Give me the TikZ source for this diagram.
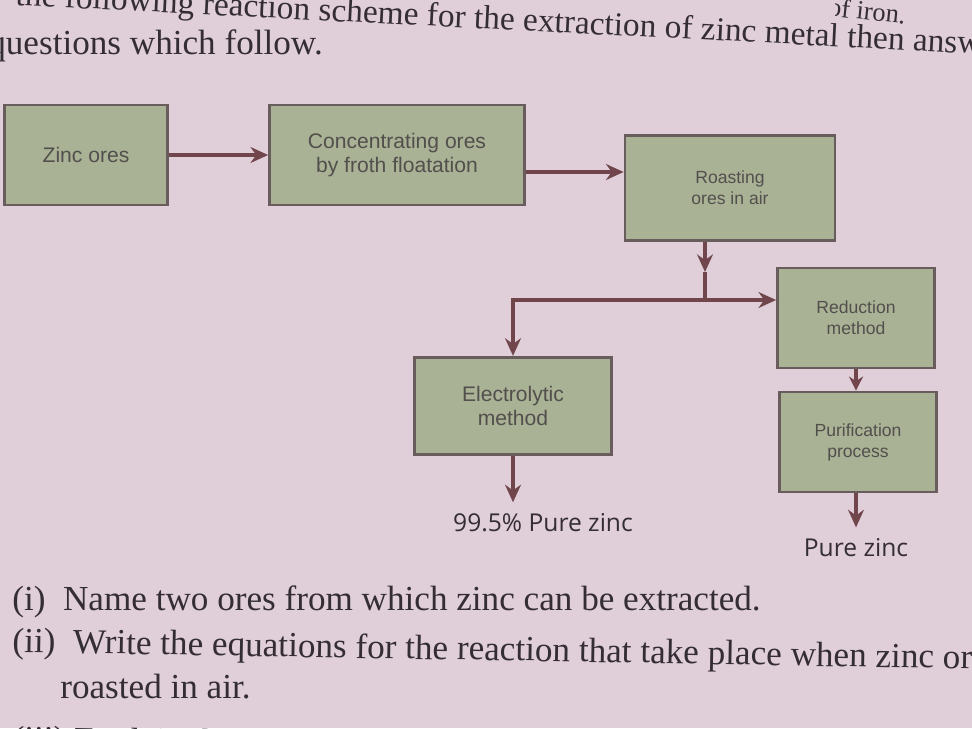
\documentclass[tikz,border=0pt]{standalone}
\usepackage{fontspec}
\setmainfont{Liberation Serif}
\setsansfont{Liberation Sans}
\newfontfamily\labelfont{Open Sans}
\usetikzlibrary{arrows.meta,positioning}

\definecolor{pagebg}{RGB}{224,206,216}
\definecolor{boxfill}{RGB}{170,178,150}
\definecolor{boxline}{RGB}{105,92,92}
\definecolor{flowcol}{RGB}{112,70,76}
\definecolor{inktext}{RGB}{52,46,52}

\tikzset{
  stage/.style={draw=boxline,fill=boxfill,line width=1.6pt,align=center,inner sep=2pt,
    font=\sffamily\fontsize{12}{14}\selectfont,text=inktext!75!boxfill},
  smallstage/.style={stage,font=\sffamily\fontsize{10}{12}\selectfont},
  flow/.style={draw=flowcol,line width=2.2pt,-{Stealth[length=10pt,width=9pt]}},
  link/.style={draw=flowcol,line width=2.2pt},
  result/.style={font=\labelfont\fontsize{14}{16}\selectfont,text=inktext},
  pageline/.style={anchor=base west,inner sep=0pt,font=\fontsize{20}{24}\selectfont,text=inktext}
}

\begin{document}
\begin{tikzpicture}[x=0.02cm,y=-0.02cm]
\fill[pagebg] (0,0) rectangle (972,728);
\clip (0,0) rectangle (972,728);

% text of the page round the scheme
\begin{scope}
  \clip (835,0) rectangle (972,34);
  \node[pageline,anchor=base east,rotate=-6,font=\fontsize{15}{17}\selectfont] (prevline) at (905,24) {process of iron.};
\end{scope}
\node[pageline,rotate=-2.9,font=\fontsize{19}{22}\selectfont] (introa) at (15,5) {the following reaction scheme for the extraction of zinc metal then answer the};
\node[pageline] (introb) at (-12,54) {questions which follow.};

% the scheme
\node[stage,minimum width=3.26cm,minimum height=2cm] (ores) at (86,155) {Zinc ores};
\node[stage,minimum width=5.1cm,minimum height=2cm] (conc) at (397,155) {Concentrating ores\\by froth floatation};
\node[smallstage,minimum width=4.2cm,minimum height=2.1cm] (roast) at (730,188) {Roasting\\ores in air};
\node[smallstage,minimum width=3.14cm,minimum height=2cm] (reduce) at (856,318) {Reduction\\method};
\node[smallstage,minimum width=3.14cm,minimum height=2cm] (purify) at (858,442) {Purification\\process};
\node[stage,minimum width=3.94cm,minimum height=1.95cm] (electro) at (513,406) {Electrolytic\\method};

\node[result] (purea) at (543,523) {99.5\% Pure zinc};
\node[result] (pureb) at (856,548) {Pure zinc};

\coordinate (rmid) at (705,272);
\coordinate (split) at (705,300);
\coordinate (fork) at (513,300);

\draw[flow] (ores) -- (conc);
\draw[flow] (conc.east |- 0,172) -- (roast.west |- 0,172);
\draw[flow] (roast.south -| split) -- (rmid);
\draw[link] (rmid) -- (split);
\draw[flow] ([xshift=-1.1pt]fork) -- (reduce.west |- fork);
\draw[flow] (fork) -- (electro.north);
\draw[flow,-{Stealth[length=8pt,width=8pt]}] (reduce.south) -- (reduce.south |- purify.north);
\draw[flow,shorten >=3pt] (electro.south) -- (electro.south |- purea.north);
\draw[flow,shorten >=3pt] (purify.south -| pureb) -- (pureb.north);

% questions
\node[pageline] (qa) at (12,610) {(i)\enspace Name two ores from which zinc can be extracted.};
\node[pageline,rotate=-1] (qb) at (12,652) {(ii)\enspace Write the equations for the reaction that take place when zinc ore is};
\node[pageline] (qc) at (60,698) {roasted in air.};
\node[pageline,rotate=-1] (qd) at (12,750) {(iii) Explain the effect of the by product of the roasting};
\end{tikzpicture}
\end{document}
